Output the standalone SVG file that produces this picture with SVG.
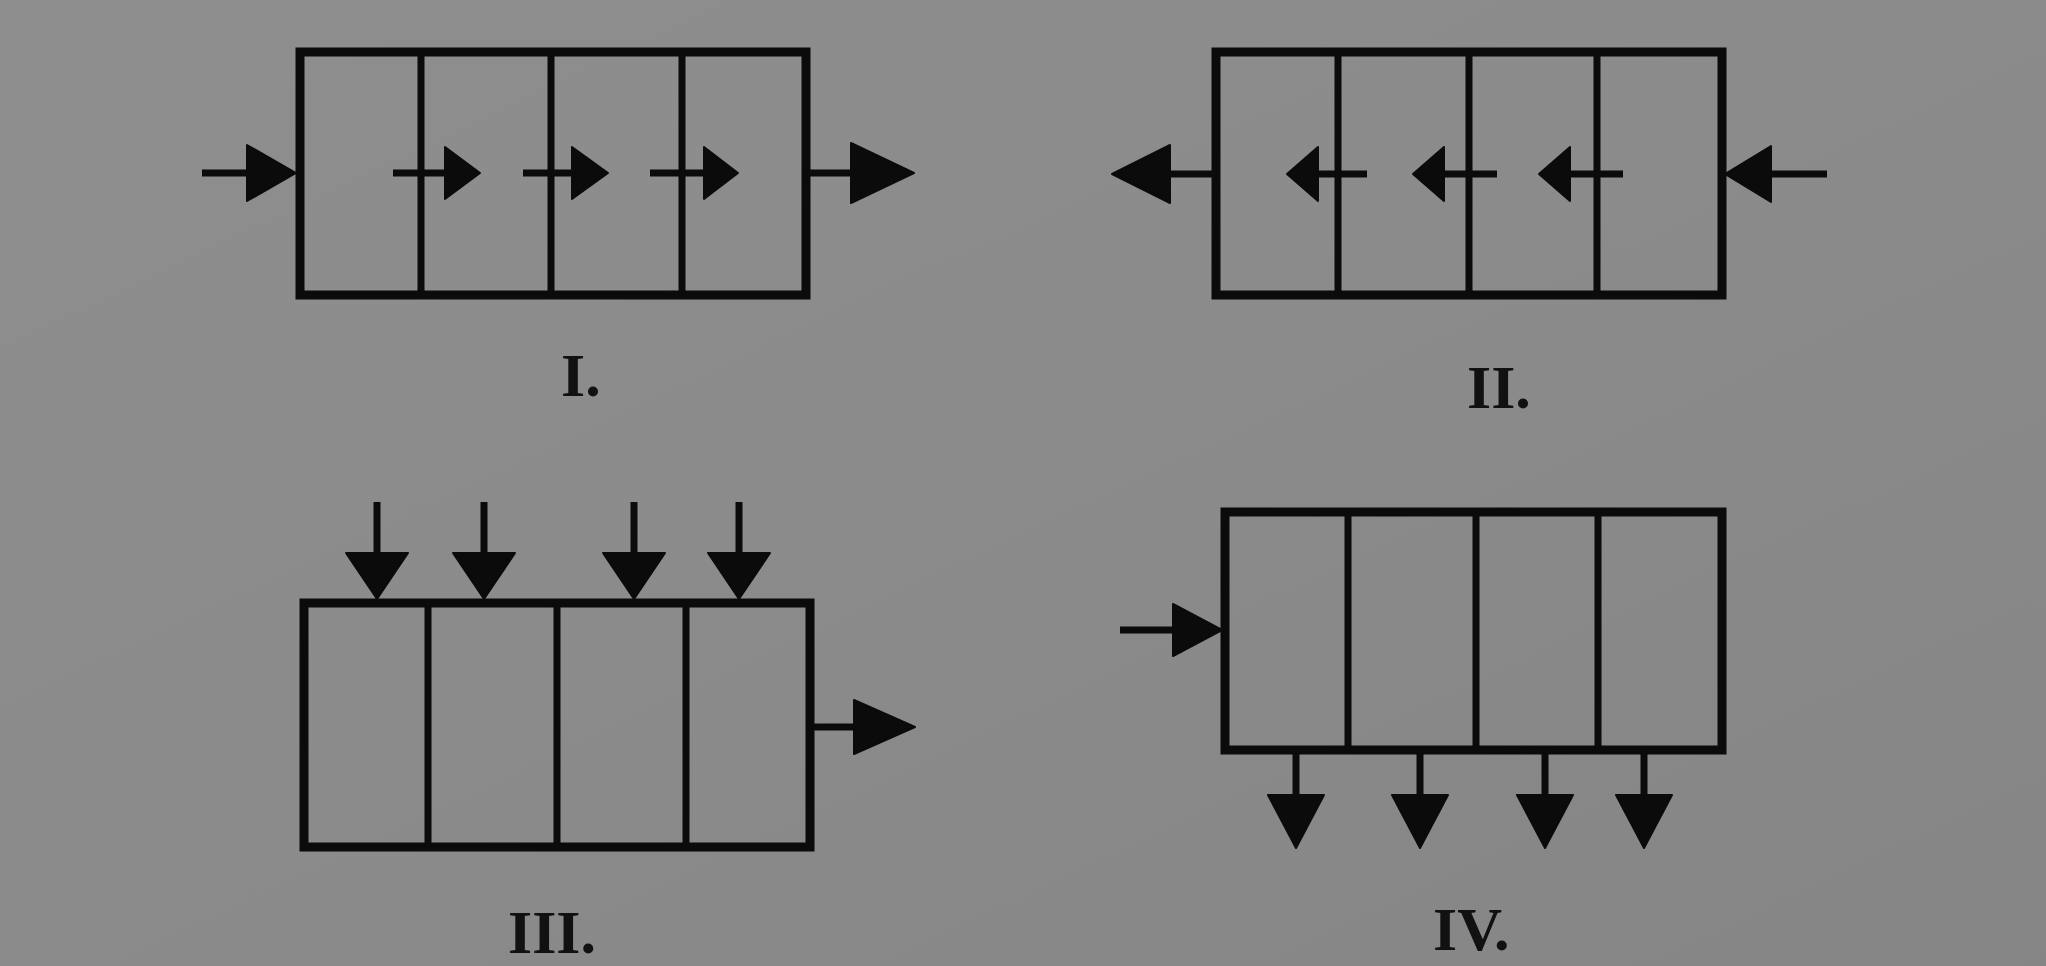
<svg xmlns="http://www.w3.org/2000/svg" width="2046" height="966" viewBox="0 0 2046 966">
<defs>
<linearGradient id="bg" x1="0" y1="0" x2="1" y2="1">
<stop offset="0" stop-color="#8e8e8e"/>
<stop offset="0.5" stop-color="#8b8b8b"/>
<stop offset="1" stop-color="#858585"/>
</linearGradient>
</defs>
<style>
.box{fill:none;stroke:#0b0b0b;stroke-width:9;stroke-linejoin:miter}
.div{stroke:#0b0b0b;stroke-width:7}
.shaft{stroke:#0b0b0b;stroke-width:7;fill:none}
.head{fill:#0b0b0b;stroke:#0b0b0b;stroke-width:2;stroke-linejoin:round}
.lbl{font-family:"Liberation Serif","Times New Roman",serif;font-weight:bold;font-size:62px;fill:#111}
</style>
<rect width="2046" height="966" fill="url(#bg)"/>

<g id="diagram-I">
<rect class="box" x="300" y="52" width="506" height="243"/>
<line class="div" x1="421" y1="52" x2="421" y2="295"/>
<line class="div" x1="551" y1="52" x2="551" y2="295"/>
<line class="div" x1="682" y1="52" x2="682" y2="295"/>
<text class="lbl" x="561" y="396">I.</text>
</g>

<g id="diagram-II">
<rect class="box" x="1216" y="52" width="506" height="243"/>
<line class="div" x1="1338" y1="52" x2="1338" y2="295"/>
<line class="div" x1="1469" y1="52" x2="1469" y2="295"/>
<line class="div" x1="1597" y1="52" x2="1597" y2="295"/>
<text class="lbl" x="1467" y="408">II.</text>
</g>

<g id="diagram-III">
<rect class="box" x="304" y="603" width="506" height="244"/>
<line class="div" x1="428" y1="603" x2="428" y2="847"/>
<line class="div" x1="557" y1="603" x2="557" y2="847"/>
<line class="div" x1="686" y1="603" x2="686" y2="847"/>
<text class="lbl" x="508" y="953">III.</text>
</g>

<g id="diagram-IV">
<rect class="box" x="1225" y="512" width="497" height="238"/>
<line class="div" x1="1348" y1="512" x2="1348" y2="750"/>
<line class="div" x1="1476" y1="512" x2="1476" y2="750"/>
<line class="div" x1="1598" y1="512" x2="1598" y2="750"/>
<text class="lbl" x="1433" y="950">IV.</text>
</g>

<g id="connectors">
<!-- I -->
<line class="shaft" x1="202" y1="173" x2="250" y2="173"/>
<polygon class="head" points="247,145 296,173 247,201"/>
<line class="shaft" x1="393" y1="173" x2="447" y2="173"/>
<polygon class="head" points="445,147 480,173 445,199"/>
<line class="shaft" x1="523" y1="173" x2="574" y2="173"/>
<polygon class="head" points="572,147 608,173 572,199"/>
<line class="shaft" x1="650" y1="173" x2="706" y2="173"/>
<polygon class="head" points="704,147 738,173 704,199"/>
<line class="shaft" x1="806" y1="173" x2="853" y2="173"/>
<polygon class="head" points="851,143 914,173 851,203"/>
<!-- II -->
<line class="shaft" x1="1168" y1="174" x2="1216" y2="174"/>
<polygon class="head" points="1112,174 1170,145 1170,203"/>
<line class="shaft" x1="1316" y1="174" x2="1367" y2="174"/>
<polygon class="head" points="1287,174 1318,147 1318,201"/>
<line class="shaft" x1="1442" y1="174" x2="1497" y2="174"/>
<polygon class="head" points="1413,174 1444,147 1444,201"/>
<line class="shaft" x1="1568" y1="174" x2="1623" y2="174"/>
<polygon class="head" points="1539,174 1570,147 1570,201"/>
<line class="shaft" x1="1769" y1="174" x2="1827" y2="174"/>
<polygon class="head" points="1725,174 1771,146 1771,202"/>
<!-- III -->
<line class="shaft" x1="377" y1="502" x2="377" y2="555"/>
<polygon class="head" points="346,553 408,553 377,599"/>
<line class="shaft" x1="484" y1="502" x2="484" y2="555"/>
<polygon class="head" points="453,553 515,553 484,599"/>
<line class="shaft" x1="634" y1="502" x2="634" y2="555"/>
<polygon class="head" points="603,553 665,553 634,599"/>
<line class="shaft" x1="739" y1="502" x2="739" y2="555"/>
<polygon class="head" points="708,553 770,553 739,599"/>
<line class="shaft" x1="810" y1="727" x2="856" y2="727"/>
<polygon class="head" points="854,700 915,727 854,754"/>
<!-- IV -->
<line class="shaft" x1="1120" y1="630" x2="1175" y2="630"/>
<polygon class="head" points="1173,604 1222,630 1173,656"/>
<line class="shaft" x1="1296" y1="750" x2="1296" y2="797"/>
<polygon class="head" points="1268,795 1324,795 1296,848"/>
<line class="shaft" x1="1420" y1="750" x2="1420" y2="797"/>
<polygon class="head" points="1392,795 1448,795 1420,848"/>
<line class="shaft" x1="1545" y1="750" x2="1545" y2="797"/>
<polygon class="head" points="1517,795 1573,795 1545,848"/>
<line class="shaft" x1="1644" y1="750" x2="1644" y2="797"/>
<polygon class="head" points="1616,795 1672,795 1644,848"/>
</g>
</svg>
